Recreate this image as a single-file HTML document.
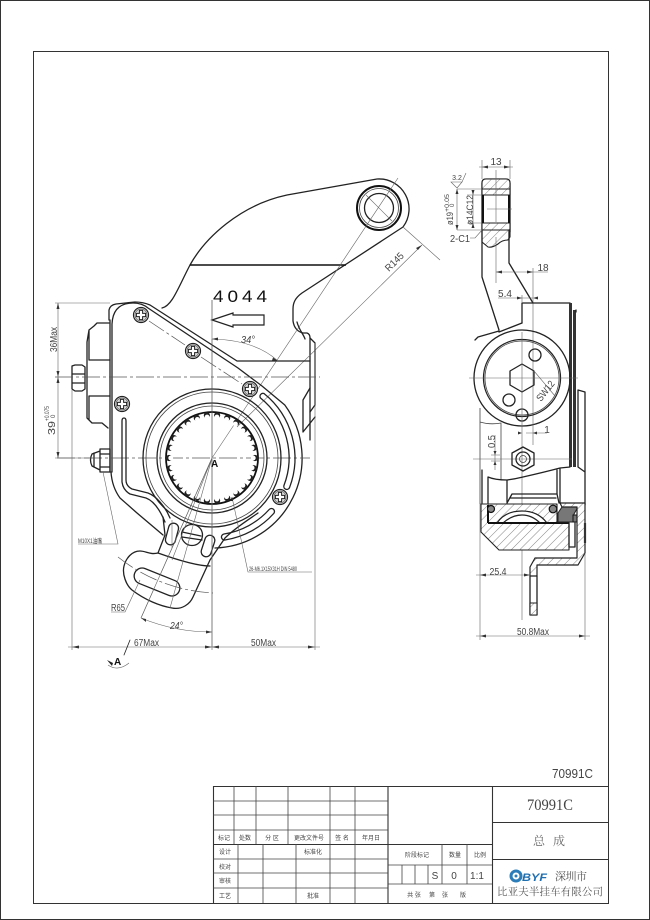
<!DOCTYPE html>
<html><head><meta charset="utf-8"><style>
html,body{margin:0;padding:0;background:#fff;width:650px;height:920px;overflow:hidden}
svg{display:block;filter:blur(.3px)}
text{font-family:"Liberation Sans","Noto Sans CJK SC",sans-serif;fill:#444}
.m{fill:none;stroke:#222;stroke-width:1.3;stroke-linejoin:round;stroke-linecap:round}
.h{fill:none;stroke:#111;stroke-width:2}
.t{fill:none;stroke:#666;stroke-width:.6}
.c{fill:none;stroke:#555;stroke-width:.7;stroke-dasharray:18 3 3 3}
.g{fill:none;stroke:#444;stroke-width:.8}
.k{fill:none;stroke:#333;stroke-width:1}
.hat{fill:url(#hat);stroke:#222;stroke-width:1.1;stroke-linejoin:round}
</style></head><body>
<svg width="650" height="920" viewBox="0 0 650 920" xmlns="http://www.w3.org/2000/svg">
<defs>
<pattern id="hat" width="6" height="6" patternUnits="userSpaceOnUse" patternTransform="rotate(45)"><rect width="6" height="6" fill="#fff"/><line x1="0" y1="0" x2="0" y2="6" stroke="#888" stroke-width="1"/></pattern>
<g id="sc"><circle r="7.5" fill="#fff" stroke="#222" stroke-width="1.2"/><circle r="6" fill="#ddd" stroke="#555" stroke-width=".7"/><path d="M-1.6-4.6h3.2v3h3v3.2h-3v3h-3.2v-3h-3v-3.2h3z" fill="#fff" stroke="#222" stroke-width="1"/></g>
</defs>
<rect width="650" height="920" fill="#fff"/>
<rect x=".5" y=".5" width="649" height="919" class="k"/>
<rect x="33.5" y="51.5" width="575" height="852" fill="none" stroke="#333" stroke-width="1"/>

<!-- MAIN VIEW -->
<path class="m" d="M162 308 C172 306 178 288 190 265 C205 238 240 205 287 195 L377 179 A30 30 0 0 1 403 227 L302 293 C295 298 293 303 293 309 L293 321 C294 328 298 332 303 333 L307 333 Q310 334 310 338 L310 440"/>
<path class="h" style="stroke-width:1.6" d="M190 265 H346"/>
<circle cx="379" cy="208" r="22" class="h" fill="#fff"/><circle cx="379" cy="208" r="19.5" class="g"/><circle cx="379" cy="208" r="14.5" class="m"/>
<path class="t" d="M212 458 L398 178 M366 195L392 221 M212 458 L141 618 M237 427 L422 245 M403 227 L440 260 M212 339V458 M212 300V320"/>
<path class="m" d="M297 322 C299 330 304 335 305 339"/>
<path class="m" d="M109 320 V310 Q110 305 116 304 L135 302 Q143 302 150 305 L237 361 H310"/>
<path class="m" d="M112 472 V324 Q113 303 133 303 Q142 303 148 308 L238 368 L262 386 L284.8 405 A90 90 0 0 1 215 548"/>
<path class="m" d="M110 472 V320 M310 338 L315 343 V405 L310 412 M303 432 V400 L310 388 M303 432 L315 417"/>
<!-- hub -->
<path class="m" d="M87 342 V418 L92 423 H102 L108 428 M87 342 L89 330 L94 326 L97 323 H109 M89 360 H110 M89 396 H110 M89 330 V360 M89 396 V420"/>
<path class="m" d="M72 366 L75 365 H82 L85 367 V389 L82 391 H75 L72 389 Z M72 374 H85 M72 383 H85" fill="#fff"/>
<path class="c" d="M55 377 H320 M57 458 H310"/>
<!-- nut left -->
<path class="m" d="M100 449 H110 V472 H100 Z M100 454H110 M100 467H110 M100 451 L92 454 Q89 460 92 466 L100 470 M94 453 V467"/>
<!-- lower body -->
<path class="m" d="M111 472 Q112 487 120 498 L137 513 L163 535"/>
<circle cx="212" cy="458" r="69" class="m" fill="#fff"/><circle cx="212" cy="458" r="66" class="g"/>
<circle cx="212" cy="458" r="55" class="m"/><circle cx="212" cy="458" r="52" class="g"/>
<circle cx="212" cy="458" r="46" fill="none" stroke="#111" stroke-width="1.8"/>
<circle cx="212" cy="458" r="43" fill="none" stroke="#222" stroke-width="6.2" stroke-linecap="round" pathLength="26" stroke-dasharray="0 1"/>
<circle cx="212" cy="458" r="41.3" fill="none" stroke="#fff" stroke-width="4.8" stroke-linecap="round" pathLength="26" stroke-dasharray="0 1"/>
<!-- slots -->
<path class="m" d="M122 421 Q122 418 124 418 Q126 418 126 421 V480 Q126 486 132 489 L148 493 C156 496 165 506 170 518 M122 421 V482 Q123 490 130 494 L146 498 C154 501 160 510 165 522"/>
<path class="m" d="M264 393.5 A83 83 0 0 1 289.5 487.7 A3 3 0 0 1 283.9 485.6 A77 77 0 0 0 260.5 398 A3 3 0 0 1 264 393.5 Z"/>
<path class="m" d="M273.7 513.5 A83 83 0 0 1 225 540 A3 3 0 0 1 224 534 A77 77 0 0 0 269.2 509.5 A3 3 0 0 1 273.7 513.5 Z"/>
<!-- lever -->
<path class="m" fill="#fff" d="M163 517 L165 535 L158 553 C150 555 146 551 140 551 C132 551 126 558 124 566 C122 574 126 585 132 590 C145 600 160 606 172 608 C182 610 190 604 193 597 L210 560 L225 538 C235 528 248 520 258 513"/>
<path class="m" d="M158 553 C172 558 195 566 210 566"/>
<g transform="translate(157 582) rotate(22)"><rect x="-24" y="-8" width="48" height="16" rx="8" fill="#fff" stroke="#222" stroke-width="1.3"/></g>
<g transform="translate(172 534) rotate(15)"><rect x="-5" y="-11" width="10" height="22" rx="5" fill="#fff" stroke="#222" stroke-width="1.3"/></g>
<g transform="translate(208 546) rotate(18)"><rect x="-5" y="-11" width="10" height="22" rx="5" fill="#fff" stroke="#222" stroke-width="1.3"/></g>
<circle cx="192" cy="535" r="10.5" fill="#fff" stroke="#222" stroke-width="1.3"/><path class="m" d="M182 532 L201 536 M182 537 L202 540"/>
<path class="t" d="M212 458 L141 618 M212 458 L172 560 M212 458 L212 647 M212 458 L170 608"/>
<path class="c" d="M118 557 Q160 590 213 593"/>
<path class="t" d="M172 520 V548 M111 612 H125 L140 580"/>
<!-- screws -->
<use href="#sc" x="141" y="315"/><use href="#sc" x="193" y="351"/><use href="#sc" x="250" y="389"/><use href="#sc" x="122" y="404"/><use href="#sc" x="280" y="497"/>
<path class="c" d="M149 321 L185 345 M201 357 L242 384"/>
<!-- 4044 -->
<text transform="translate(213 302) scale(1.15 1)" font-size="16.5" textLength="47" lengthAdjust="spacing" style="fill:#111">4044</text>
<path d="M212 320 L233 313 V315 H264 V325 H233 V327 Z" fill="#fff" stroke="#222" stroke-width="1.2"/>
<!-- dims -->
<path class="t" d="M55 303 H110 M58 303 V458 M55 458 H95 M72 390 V650 M315 343 V650 M212 300 V650 M68 647 H320"/>
<path class="t" d="M212 339 Q255 340 278 361 M141 618 Q175 632 212 632"/>
<path d="M58 303l-1.5 6h3z M58 377l-1.5-6h3z M58 377l-1.5 6h3z M58 458l-1.5-6h3z M72 647l7-1.5v3z M212 647l-7-1.5v3z M212 647l7-1.5v3z M315 647l-7-1.5v3z M212 339l6-1.5v3z M278 361l-5-3.5-1 3z M141 618l5 1v3z M212 632l-6-1.5v3z M422 245l-4 5-2-2z" fill="#333"/>
<text transform="translate(57 352) rotate(-90)" font-size="10" textLength="25" lengthAdjust="spacingAndGlyphs">36Max</text>
<text transform="translate(55 435) rotate(-90)" font-size="10.5" textLength="14" lengthAdjust="spacingAndGlyphs">39</text>
<text transform="translate(49 421) rotate(-90)" font-size="6" textLength="15" lengthAdjust="spacingAndGlyphs">+0.075</text>
<text transform="translate(55 418) rotate(-90)" font-size="6">0</text>
<text x="134" y="646" font-size="10" textLength="25" lengthAdjust="spacingAndGlyphs">67Max</text>
<text x="251" y="646" font-size="10" textLength="25" lengthAdjust="spacingAndGlyphs">50Max</text>
<text x="111" y="611" font-size="10" textLength="14" lengthAdjust="spacingAndGlyphs">R65</text>
<text x="170" y="629" font-size="10" font-style="italic" textLength="13" lengthAdjust="spacingAndGlyphs">24°</text>
<text x="241" y="343" font-size="10" font-style="italic" textLength="14" lengthAdjust="spacingAndGlyphs">34°</text>
<text transform="translate(389 272) rotate(-45)" font-size="10" textLength="22" lengthAdjust="spacingAndGlyphs">R145</text>
<text x="78" y="543" font-size="6.5" textLength="24" lengthAdjust="spacingAndGlyphs">M10X1油嘴</text>
<path class="t" d="M78 544 H118 L103 472"/>
<text x="249" y="571" font-size="6" textLength="48" lengthAdjust="spacingAndGlyphs">26-M6.1X15X31H DIN 5480</text>
<path class="t" d="M232 497 L248 572 H312"/>
<path d="M232 497l-2 4 3 0z" fill="#222"/>
<text x="211" y="467" font-size="10" font-weight="bold" style="fill:#111">A</text>
<text x="114" y="665" font-size="10" font-weight="bold" style="fill:#111">A</text>
<path class="m" d="M124 655 L130 640" style="stroke-width:.8"/>
<path d="M107 660l5 6 1-3z" fill="#222"/>
<path class="t" d="M108 665 Q118 672 129 663"/>

<!-- RIGHT VIEW -->
<path class="m" d="M482 232 V183 Q482 179 486 179 H506 Q510 179 510 183 V232"/>
<path class="hat" d="M482 189 V183 Q482 179 486 179 H506 Q510 179 510 183 V189 Z"/>
<path class="hat" d="M482 189 H510 V195 H482 Z M482 223 H510 V230 H482Z"/>
<path class="hat" d="M482 230 H510 V237 L508 240 Q502 240 498 244 Q492 248 488 247 L482 242 Z"/>
<path class="h" d="M483 195 V223 M509 195 V223"/>
<path class="m" d="M482 230 V277 L499 330 M509 230 V263 L533 303"/>
<path class="t" d="M496 170 V222 M487 209 H512 M482 160 V179 M510 160 V179 M479 167 H513 M457 189 H482 M457 230 H482 M457 189 V230 M473 190 V228 M467 195 H482 M467 223 H482 M496 272 H533 M496 237 V283 M533 268 V420 M533 272 H548 M498 298 H533 M522 295 V302 M533 295 V302"/>
<path d="M482 167l6-1.5v3z M510 167l-6-1.5v3z M457 189l-1.5 5h3z M457 230l-1.5-5h3z M473 195l-1.5-5h3z M473 223l-1.5 5h3z M496 272l6-1.5v3z M533 272l-6-1.5v3z M522 298l-5-1.5v3z M533 298l5-1.5v3z" fill="#333"/>
<text x="496" y="165" font-size="10" text-anchor="middle">13</text>
<text x="543" y="271" font-size="10" text-anchor="middle">18</text>
<text x="505" y="297" font-size="10" text-anchor="middle">5.4</text>
<text x="457" y="180" font-size="7" text-anchor="middle">3.2</text>
<path class="t" d="M451 182 H462 L457 188 Z M462 182 L466 173"/>
<text transform="translate(453 225) rotate(-90)" font-size="9" textLength="13" lengthAdjust="spacingAndGlyphs">ø19</text>
<text transform="translate(449 212) rotate(-90)" font-size="6" textLength="18" lengthAdjust="spacingAndGlyphs">+0.05</text>
<text transform="translate(454 207) rotate(-90)" font-size="6">0</text>
<text transform="translate(473 225) rotate(-90)" font-size="9" textLength="30" lengthAdjust="spacingAndGlyphs">ø14C12</text>
<text x="450" y="242" font-size="10" textLength="20" lengthAdjust="spacingAndGlyphs">2-C1</text>
<path class="t" d="M470 238 H475 L483 229"/>
<path class="m" d="M522 323 V303 H570"/>
<path class="m" d="M499 332 L522 323 M475 340 L478 337 L499 331"/>
<!-- right thick bands -->
<path d="M569 303 H572 V467 H569Z M573 310 H576 V467 H573Z" fill="#333"/>
<path class="m" d="M578 390 V467 L585 472 M578 390 L585 392 V505 M576 310 V312"/>
<circle cx="522" cy="378" r="48" class="m" fill="#fff"/><circle cx="522" cy="378" r="38.5" class="m"/><circle cx="522" cy="378" r="37" class="g"/>
<path class="m" fill="#fff" d="M522 364 L534 371 V385 L522 392 L510 385 V371 Z"/>
<circle cx="535" cy="355" r="6" class="m"/><circle cx="509" cy="400" r="6" class="m"/><circle cx="522" cy="415" r="6" class="m" fill="#fff"/>
<path class="t" d="M469 378 H578 M522 332 V620"/>
<path class="t" d="M534 371 L555 396"/>
<text transform="translate(541 402) rotate(-52)" font-size="10" textLength="23" lengthAdjust="spacingAndGlyphs">SW12</text>
<path class="g" d="M480 408 V504 M480 422 Q490 425 501 423 V480"/>
<!-- nut -->
<path class="t" d="M473 459 H572 M533 420 V445"/>
<path class="m" fill="#fff" d="M523 447 L534 453 V465 L523 471 L512 465 V453 Z"/>
<circle cx="523" cy="459" r="7" class="m"/><circle cx="523" cy="459" r="3.5" class="g"/>
<path class="t" d="M495 435 V470 M491 455 H500 M491 461 H500 M526 433 H547"/>
<text transform="translate(495 448) rotate(-90)" font-size="10" textLength="13" lengthAdjust="spacingAndGlyphs">0.5</text>
<text x="547" y="433" font-size="10" text-anchor="middle">1</text>
<path d="M495 455l-1.5-4h3z M495 461l-1.5 4h3z M522 433l-4-1.5v3z M533 433l4-1.5v3z" fill="#333"/>
<path class="m" d="M482 470 V503 M488 477 V503 M488 477 Q495 480 507 480 V502 M507 480 Q515 479 523 477 Q545 472 560 468 L570 467 M560 468 V503 M557 470 V494"/>
<path class="m" d="M507 503 L512 494 H557 L559 503 M510 498 H556"/>
<!-- section -->
<path class="hat" d="M481 504 H557 V523 H569 V550 H499 L481 532 Z"/>
<path d="M497 523 Q505 511 522 511 Q538 511 547 523 Z" fill="#fff" stroke="#222" stroke-width="1.2"/>
<path class="m" d="M503 523 Q512 515 522 515 Q532 515 540 523"/>
<path class="h" d="M488 523 H569 M488 505 V523"/>
<circle cx="491" cy="509" r="3.5" fill="#888" stroke="#111" stroke-width="1.2"/>
<circle cx="553" cy="509" r="3.8" fill="#888" stroke="#111" stroke-width="1.2"/>
<path d="M558 513 L562 507 H578 L574 514 V522 H558Z" fill="#777" stroke="#222" stroke-width="1"/>
<rect x="573" y="515" width="5" height="7" fill="#777" stroke="#111"/>
<path class="m" d="M569 523 V547 H575 V523"/>
<path class="hat" d="M560 503 H585 V553 L578 565 H537 V576 H530 V567 L535 558 H577 V507 H562 Z" style="stroke-width:1.2"/>
<path d="M585 523 V543" stroke="#333" stroke-width="2.2"/>
<path class="m" d="M530 576 V615 H537 V576"/>
<path class="hat" d="M530 603 H537 V615 H530 Z"/>
<path class="t" d="M480 503 V640 M585 553 V640 M476 636 H590 M476 575 H530"/>
<path d="M480 636l6-1.5v3z M585 636l-6-1.5v3z M480 575l6-1.5v3z M530 575l-6-1.5v3z" fill="#333"/>
<text x="498" y="575" font-size="10" text-anchor="middle" textLength="17" lengthAdjust="spacingAndGlyphs">25.4</text>
<text x="533" y="635" font-size="10" text-anchor="middle" textLength="32" lengthAdjust="spacingAndGlyphs">50.8Max</text>

<!-- TITLE BLOCK -->
<text x="552" y="778" font-size="13" textLength="41" lengthAdjust="spacingAndGlyphs">70991C</text>
<path d="M213.5 786.5 H608 M213.5 786 V903.5 M388 786 V903 M492.5 786 V903 M213 844.5 H492.5 M492 822.5 H608 M492 859.5 H608" fill="none" stroke="#333" stroke-width="1.1"/>
<path class="g" d="M213 801 H388 M213 815 H388 M213 830 H388 M213 859 H388 M213 873 H388 M213 888 H388 M234 786 V844 M256 786 V844 M288 786 V844 M330 786 V903 M355 786 V903 M238 844 V903 M263 844 V903 M296 844 V903 M442 844 V884 M467 844 V884 M388 865 H492 M388 884 H492 M402 865 V884 M415 865 V884 M428 865 V884" stroke-width=".9"/>
<g font-size="6" text-anchor="middle" style="font-size:6px">
<text x="224" y="840">标记</text><text x="245" y="840">处数</text><text x="272" y="840">分 区</text><text x="309" y="840">更改文件号</text><text x="342" y="840">签 名</text><text x="371" y="840">年月日</text>
<text x="225" y="854">设计</text><text x="313" y="854">标准化</text><text x="225" y="869">校对</text><text x="225" y="883">审核</text><text x="225" y="898">工艺</text><text x="313" y="898">批准</text>
<text x="417" y="857">阶段标记</text><text x="455" y="857">数量</text><text x="480" y="857">比例</text>
<text x="414" y="897">共 张</text><text x="432" y="897">第</text><text x="445" y="897">张</text><text x="463" y="897">版</text>
</g>
<text x="435" y="879" font-size="10" text-anchor="middle">S</text><text x="454" y="879" font-size="10" text-anchor="middle">0</text><text x="477" y="879" font-size="10" text-anchor="middle">1:1</text>
<text x="527" y="810" font-size="15.5" style="font-family:'Liberation Serif',serif" textLength="46" lengthAdjust="spacingAndGlyphs">70991C</text>
<text x="533" y="845" font-size="12" style="font-family:'Noto Serif CJK SC',serif;fill:#666">总</text>
<text x="553" y="845" font-size="12" style="font-family:'Noto Serif CJK SC',serif;fill:#666">成</text>
<circle cx="516" cy="876" r="5" fill="none" stroke="#2a7db8" stroke-width="3"/><circle cx="516" cy="876" r="1.5" fill="#2a7db8"/>
<text x="522" y="881" font-size="11" font-weight="bold" font-style="italic" textLength="25" lengthAdjust="spacingAndGlyphs" style="fill:#1f6fb0">BYF</text>
<text x="555" y="880" font-size="11" style="font-family:'Noto Serif CJK SC',serif;fill:#555" textLength="32">深圳市</text>
<text x="497" y="895" font-size="10.5" style="font-family:'Noto Serif CJK SC',serif;fill:#555" textLength="106">比亚夫半挂车有限公司</text>
</svg>
</body></html>
